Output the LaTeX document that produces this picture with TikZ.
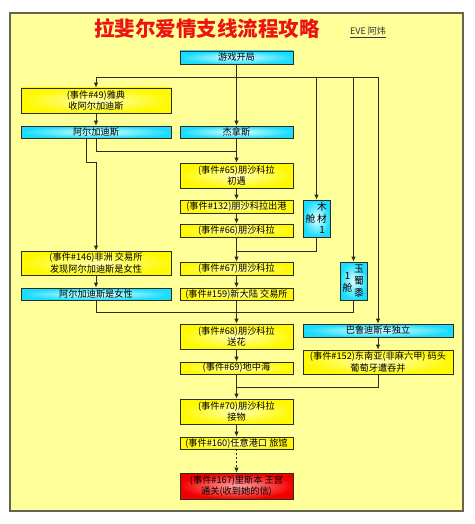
\documentclass[tikz,border=0pt]{standalone}
\usepackage{fontspec}
\newfontfamily\cjk{Noto Sans CJK SC}
\usetikzlibrary{arrows.meta}
\definecolor{bgyel}{RGB}{255,255,153}
\definecolor{framec}{RGB}{100,100,80}
\definecolor{linec}{RGB}{45,45,30}
\definecolor{titlered}{RGB}{235,20,20}
\tikzset{
  box/.style={draw=linec, line width=0.8pt, rectangle, inner sep=0pt, align=center,
     font=\cjk\fontsize{9.2}{11.8}\selectfont, text=black},
  ybox/.style={box, shading=radial, inner color=yellow!30!white, outer color=yellow!95!orange},
  cbox/.style={box, shading=radial, inner color=cyan!12!white, outer color=cyan!85!blue!90!white},
  rbox/.style={box, shading=radial, inner color=red!35!white, outer color=red!95!black},
  ln/.style={draw=linec, line width=0.8pt},
  arr/.style={ln, -{Latex[length=5pt,width=4.5pt]}},
  vch/.style={font=\cjk\fontsize{9.8}{9.8}\selectfont, inner sep=0pt, text=black},
}
\begin{document}
\begin{tikzpicture}[x=1pt,y=-1pt]
\useasboundingbox (0,0) rectangle (474,524);
\fill[white] (0,0) rectangle (474,524);
\draw[fill=bgyel, draw=framec, line width=1.2pt] (10,13) rectangle (463,511);

\node[text=titlered, font=\cjk\bfseries\fontsize{20.5}{22}\selectfont] (title) at (207,29) {拉斐尔爱情支线流程攻略};
\node[font=\cjk\fontsize{9}{9}\selectfont, text=black!80, inner sep=0pt] (author) at (368,32.5) {\underline{EVE 阿炜}};

% boxes
\node[cbox, minimum width=113pt, minimum height=13pt] (start) at (236.5,57.5) {游戏开局};
\node[ybox, minimum width=150pt, minimum height=25pt] (b49) at (96,100.5) {(事件\#49)雅典\\收阿尔加迪斯};
\node[cbox, minimum width=150pt, minimum height=12pt] (ard) at (96,132) {阿尔加迪斯};
\node[cbox, minimum width=113pt, minimum height=12pt] (jns) at (236.5,132) {杰拿斯};
\node[ybox, minimum width=113pt, minimum height=25pt] (b65) at (236.5,175.5) {(事件\#65)朋沙科拉\\初遇};
\node[ybox, minimum width=113pt, minimum height=13pt] (b132) at (236.5,206.5) {(事件\#132)朋沙科拉出港};
\node[cbox, minimum width=27pt, minimum height=37pt] (mu) at (316.5,218.5) {};
\node[ybox, minimum width=113pt, minimum height=13pt] (b66) at (236.5,230.5) {(事件\#66)朋沙科拉};
\node[ybox, minimum width=150pt, minimum height=24pt] (b146) at (96,263) {(事件\#146)非洲 交易所\\发现阿尔加迪斯是女性};
\node[ybox, minimum width=113pt, minimum height=13pt] (b67) at (236.5,268.5) {(事件\#67)朋沙科拉};
\node[cbox, minimum width=27pt, minimum height=38pt] (yu) at (353.5,281) {};
\node[cbox, minimum width=150pt, minimum height=12pt] (nvx) at (96,294) {阿尔加迪斯是女性};
\node[ybox, minimum width=113pt, minimum height=12pt] (b159) at (236.5,294) {(事件\#159)新大陆 交易所};
\node[ybox, minimum width=113pt, minimum height=25pt] (b68) at (236.5,336.5) {(事件\#68)朋沙科拉\\送花};
\node[cbox, minimum width=150pt, minimum height=13pt] (bal) at (378,330.5) {巴鲁迪斯车独立};
\node[ybox, minimum width=150pt, minimum height=24pt] (b152) at (378,362) {(事件\#152)东南亚(非麻六甲) 码头\\葡萄牙遭吞并};
\node[ybox, minimum width=113pt, minimum height=12pt] (b69) at (236.5,368) {(事件\#69)地中海};
\node[ybox, minimum width=113pt, minimum height=25pt] (b70) at (236.5,411.5) {(事件\#70)朋沙科拉\\接物};
\node[ybox, minimum width=113pt, minimum height=12pt] (b160) at (236.5,443) {(事件\#160)任意港口 旅馆};
\node[rbox, minimum width=113pt, minimum height=26pt] (b167) at (236.5,486) {(事件\#167)里斯本 王宫\\通关(收到她的信)};

% vertical texts
\node[vch] (mu1) at (322,206.5) {木};
\node[vch] (mu2) at (310.5,218.5) {舱};
\node[vch] (mu3) at (322,218.5) {材};
\node[vch] (mu4) at (322,230.5) {1};
\node[vch] (yu1) at (359,268.5) {玉};
\node[vch] (yu2) at (359,280.5) {蜀};
\node[vch] (yu3) at (359,292.5) {黍};
\node[vch] (yu4) at (347.5,276) {1};
\node[vch] (yu5) at (347.5,288) {舱};

% junction coordinates
\coordinate (ja) at (96,77);
\coordinate (jmu) at (316.5,77);
\coordinate (jyu) at (353.5,77);
\coordinate (jbal) at (378,77);
\coordinate (k0) at (96,151);
\coordinate (kc0) at (236.5,151);
\coordinate (k1) at (86,162);
\coordinate (k2) at (96,162);
\coordinate (m1) at (316.5,251);
\coordinate (mc1) at (236.5,251);
\coordinate (n1) at (96,312);
\coordinate (n2) at (353.5,312);
\coordinate (p1) at (378,387);
\coordinate (pc1) at (236.5,387);

% connectors
\draw[ln] (ja) -- (jbal);
\draw[arr] (start) -- (jns);
\draw[arr] (ja) -- (b49);
\draw[arr] (jmu) -- (mu);
\draw[arr] (jyu) -- (yu);
\draw[arr] (jbal) -- (bal);
\draw[arr] (b49) -- (ard);
\draw[ln] (ard.south) -- (k0) -- (kc0);
\draw[arr] (jns) -- (b65);
\draw[arr] (ard.south -| k1) -- (k1) -- (k2) -- (b146.north);
\draw[arr] (b65) -- (b132);
\draw[arr] (b132) -- (b66);
\draw[ln] (mu.south) -- (m1) -- (mc1);
\draw[arr] (b66) -- (b67);
\draw[arr] (b67) -- (b159);
\draw[arr] (b146) -- (nvx);
\draw[ln] (nvx.south) -- (n1) -- (n2) -- (yu.south);
\draw[arr] (b159) -- (b68);
\draw[arr] (bal) -- (b152);
\draw[ln] (b152.south) -- (p1) -- (pc1);
\draw[arr] (b68) -- (b69);
\draw[arr] (b69) -- (b70);
\draw[arr] (b70) -- (b160);
\draw[arr, dash pattern=on 2pt off 2pt] (b160) -- (b167);
\end{tikzpicture}
\end{document}
